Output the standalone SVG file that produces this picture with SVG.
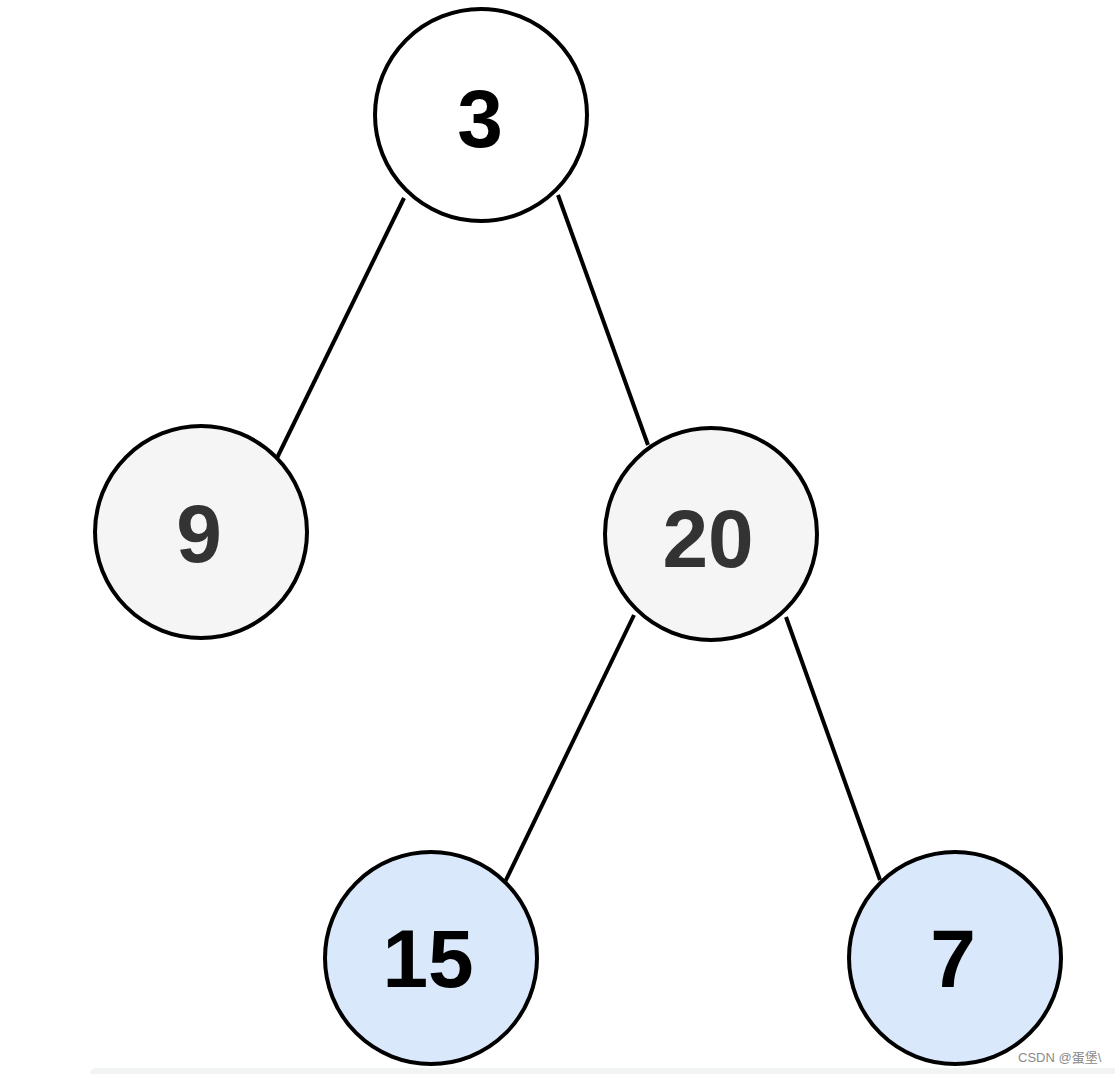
<svg xmlns="http://www.w3.org/2000/svg" width="1115" height="1074" viewBox="0 0 1115 1074">
<style>
.node circle{stroke:#000;stroke-width:4}
.node text{font-family:"Liberation Sans",Arial,sans-serif;font-weight:bold;font-size:82px;text-anchor:middle}
.edge{stroke:#000;stroke-width:4;fill:none}
.white{fill:#ffffff}
.gray{fill:#f5f5f5}
.blue{fill:#dae8fc}
</style>
<rect width="1115" height="1074" fill="#ffffff"/>
<rect x="90" y="1068" width="1030" height="12" rx="6" fill="#f2f3f3"/>
<g id="connectors">
<line class="edge" x1="404" y1="198" x2="276" y2="460"/>
<line class="edge" x1="558" y1="195" x2="648" y2="445"/>
<line class="edge" x1="634" y1="615" x2="505" y2="882"/>
<line class="edge" x1="786" y1="617" x2="880" y2="880"/>
</g>
<g id="node-3" class="node"><circle class="white" cx="481" cy="115" r="106"/><text x="480" y="147" fill="#000">3</text></g>
<g id="node-9" class="node"><circle class="gray" cx="201" cy="532" r="106"/><text x="199" y="562" fill="#333">9</text></g>
<g id="node-20" class="node"><circle class="gray" cx="711" cy="534" r="106"/><text x="708" y="567" fill="#333">20</text></g>
<g id="node-15" class="node"><circle class="blue" cx="431" cy="958" r="106"/><text x="428" y="987" fill="#000">15</text></g>
<g id="node-7" class="node"><circle class="blue" cx="955" cy="958" r="106"/><text x="953" y="987" fill="#000">7</text></g>
<text x="1018" y="1062" font-family="Liberation Sans, 'Noto Sans CJK SC', sans-serif" font-size="13" fill="#8a8a8a">CSDN @蛋堡\</text>
</svg>
